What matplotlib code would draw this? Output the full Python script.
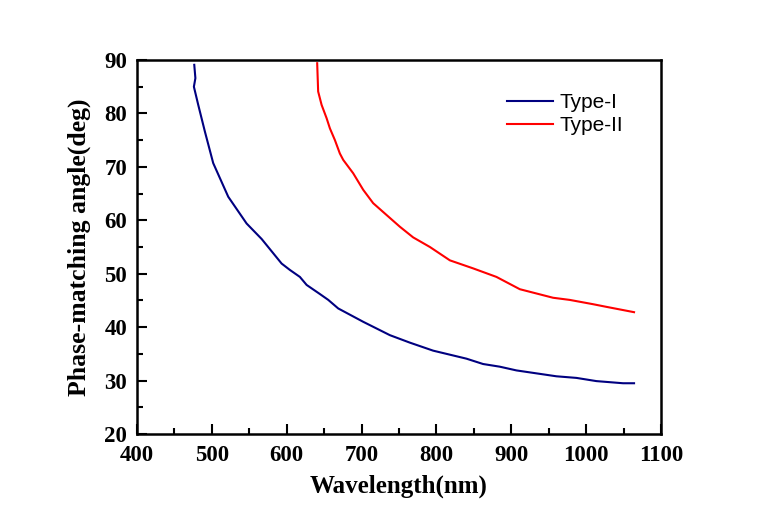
import matplotlib
matplotlib.use("Agg")
import matplotlib.pyplot as plt
from matplotlib.ticker import MultipleLocator

type1_wl = [476.5, 478.0, 476.0, 481.8, 490.7, 501.8, 521.9, 546.4, 566.5, 593.2, 604.3,
            617.6, 626.6, 644.3, 655.5, 668.8, 702.2, 737.8, 764.5, 795.6, 840.1,
            862.3, 884.6, 906.9, 960.3, 987.0, 1013.7, 1049.3, 1064.0]
type1_ang = [89.1, 86.6, 85.0, 81.6, 76.6, 70.7, 64.4, 59.4, 56.5, 51.9, 50.7,
             49.4, 47.9, 46.2, 45.1, 43.5, 41.0, 38.5, 37.1, 35.6, 34.1,
             33.1, 32.6, 31.9, 30.8, 30.5, 29.9, 29.5, 29.5]

type2_wl = [640.7, 642.0, 646.6, 653.3, 657.7, 664.4, 671.0, 675.5, 688.8, 702.2, 715.5,
            733.3, 751.1, 768.9, 791.3, 818.0, 849.0, 880.2, 911.4, 955.8, 978.0,
            1009.0, 1027.0, 1064.0]
type2_ang = [89.4, 84.1, 81.6, 79.1, 77.2, 75.0, 72.5, 71.3, 68.8, 65.7, 63.2,
             61.0, 58.8, 56.8, 55.0, 52.5, 51.0, 49.4, 47.1, 45.5, 45.1,
             44.3, 43.8, 42.8]

fig = plt.figure(figsize=(7.68, 5.22), dpi=100)
ax = fig.add_axes([137/768, 1-434/522, (661-137)/768, (434-60)/522])

ax.plot(type1_wl, type1_ang, color="#000080", lw=1.5, label="Type-I")
ax.plot(type2_wl, type2_ang, color="#ff0000", lw=1.5, label="Type-II")

ax.set_xlim(400, 1100)
ax.set_ylim(20, 90)
ax.xaxis.set_major_locator(MultipleLocator(100))
ax.xaxis.set_minor_locator(MultipleLocator(50))
ax.yaxis.set_major_locator(MultipleLocator(10))
ax.yaxis.set_minor_locator(MultipleLocator(5))
ax.tick_params(which="both", direction="in", top=False, right=False, width=1.5)
ax.tick_params(axis="x", which="major", length=7, pad=8)
ax.tick_params(axis="y", which="major", length=7, pad=7)
ax.tick_params(which="minor", length=4)
for s in ax.spines.values():
    s.set_linewidth(1.8)

serif = ["Liberation Serif", "DejaVu Serif"]
for lab in ax.get_xticklabels() + ax.get_yticklabels():
    lab.set_family(serif)
    lab.set_fontweight("bold")
    lab.set_fontsize(16.5)

ax.set_xlabel("Wavelength(nm)", family=serif, fontweight="bold", fontsize=18, labelpad=6)
ax.set_ylabel("Phase-matching angle(deg)", family=serif, fontweight="bold", fontsize=18.5, labelpad=10)

leg = ax.legend(loc="upper left", bbox_to_anchor=(0.671, 0.962), frameon=False,
                prop={"family": ["Liberation Sans", "DejaVu Sans"], "size": 15},
                handlelength=2.2, handletextpad=0.3, labelspacing=0.2)

fig.savefig("out.png", dpi=100)
